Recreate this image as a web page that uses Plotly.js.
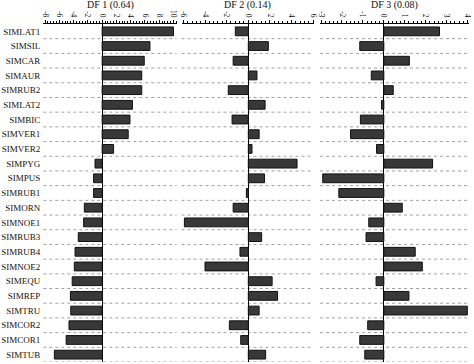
<!DOCTYPE html>
<html><head><meta charset="utf-8">
<script src="https://cdn.plot.ly/plotly-3.0.1.min.js"></script>
<style>html,body{margin:0;padding:0;background:#fff}#chart{width:474px;height:364px}</style>
</head><body><div id="chart"></div>
<script>
const categories = ["SIMLAT1","SIMSIL","SIMCAR","SIMAUR","SIMRUB2","SIMLAT2","SIMBIC","SIMVER1","SIMVER2","SIMPYG","SIMPUS","SIMRUB1","SIMORN","SIMNOE1","SIMRUB3","SIMRUB4","SIMNOE2","SIMEQU","SIMREP","SIMTRU","SIMCOR2","SIMCOR1","SIMTUB"];
const df1 = [10.0,6.7,5.9,5.55,5.55,4.25,3.9,3.65,1.6,-1.0,-1.2,-1.2,-2.5,-2.6,-3.35,-3.8,-3.9,-4.2,-4.45,-4.4,-4.65,-5.05,-6.7];
const df2 = [-1.2,1.85,-1.4,0.8,-1.85,1.55,-1.5,1.0,0.34,4.5,1.5,-0.18,-1.4,-5.9,1.23,-0.77,-4.0,2.2,2.7,1.0,-1.75,-0.7,1.6];
const df3 = [2.66,-1.15,1.22,-0.6,0.45,-0.11,-1.12,-1.59,-0.35,2.33,-2.92,-2.15,0.88,-0.72,-0.85,1.5,1.84,-0.37,1.2,3.99,-0.77,-1.15,-0.91];
const titles = ["DF 1 (0.64)","DF 2 (0.14)","DF 3 (0.08)"];
const ticks1 = [-8,-6,-4,-2,0,2,4,6,8,10];
const ticks2 = [-6,-4,-2,0,2,4,6];
const ticks3 = [-3,-2,-1,0,1,2,3,4];

const W = 474, L = 43, R = 5;
const pw = W - L - R;
const px = v => (v - L) / pw;
const doms = [[px(43.3), px(176.7)], [px(181.5), px(313.5)], [px(320), px(469.5)]];
const ranges = [[-8.25, 10.45], [-6.17, 6.02], [-3.05, 4.07]];
const minorD = [0.4, 0.4, 0.2];
const tickSets = [ticks1, ticks2, ticks3];
const serif = "Liberation Serif, Times New Roman, serif";

const series = [df1, df2, df3];
const axNames = ["x", "x2", "x3"];
const traces = series.map((s, k) => ({
  type: "bar", orientation: "h", x: s, y: categories,
  xaxis: axNames[k], yaxis: "y", width: 0.6,
  marker: {color: "#383838", line: {color: "#111", width: 1}},
  hoverinfo: "x+y", showlegend: false
}));

const layout = {
  width: 474, height: 364,
  margin: {l: L, r: R, t: 24, b: 2},
  paper_bgcolor: "#fff", plot_bgcolor: "#fff",
  bargap: 0.4,
  font: {family: serif, color: "#111"},
  yaxis: {
    type: "category", range: [22.5, -0.5], showgrid: false, zeroline: false,
    showline: false, ticks: "", tickfont: {family: serif, size: 9, color: "#111"},
    ticklabelstandoff: 2, anchor: "x"
  },
  shapes: [],
  annotations: []
};

for (let k = 0; k < 3; k++) {
  const key = k === 0 ? "xaxis" : "xaxis" + (k + 1);
  layout[key] = {
    domain: doms[k], range: ranges[k], side: "top", anchor: "y",
    showgrid: false, zeroline: true, zerolinecolor: "#000", zerolinewidth: 1,
    showline: true, linecolor: "#000", linewidth: 1,
    ticks: "outside", ticklen: 3, tickcolor: "#000", tickwidth: 1,
    tickmode: "array", tickvals: tickSets[k], ticktext: tickSets[k].map(String),
    tickangle: 90,
    tickfont: {family: serif, size: 7.5, color: "#111"},
    minor: {dtick: minorD[k], tick0: 0, ticks: "outside", ticklen: 2, tickcolor: "#000", showgrid: false}
  };
  const xr = (k === 0 ? "x" : "x" + (k + 1)) + " domain";
  layout.annotations.push({
    text: titles[k], xref: xr, x: 0.5, yref: "paper", y: 1, yshift: 19,
    showarrow: false, xanchor: "center", yanchor: "middle",
    font: {family: serif, size: 10, color: "#111"}
  });
  for (let i = 0; i < categories.length; i++) {
    layout.shapes.push({
      type: "line", xref: xr, x0: 0, x1: 1, yref: "y", y0: i + 0.5, y1: i + 0.5,
      line: {color: "#a0a0a0", width: 1, dash: "dot"}, layer: "below"
    });
  }
}

Plotly.newPlot("chart", traces, layout, {displayModeBar: false, staticPlot: true});
</script></body></html>
